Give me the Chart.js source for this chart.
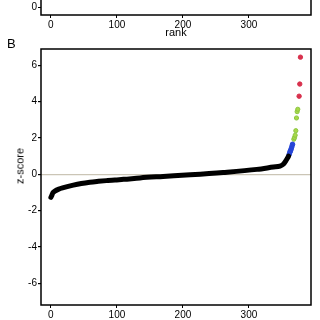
<!DOCTYPE html>
<html>
<head>
<meta charset="utf-8">
<script src="https://cdn.jsdelivr.net/npm/chart.js@4"></script>
<style>
  html, body { margin: 0; padding: 0; background: #fff; }
  body { width: 320px; height: 320px; position: relative; overflow: hidden; font-family: 'Liberation Sans', Arial, sans-serif; color: #000; }
  #topWrap { position: absolute; left: 0; top: -50px; width: 320px; height: 90px; }
  #mainWrap { position: absolute; left: 0; top: 40px; width: 320px; height: 280px; }
  #panelB { position: absolute; left: 7px; top: 37px; font-size: 13px; line-height: 13px; }
  #ytitle { position: absolute; left: 20px; top: 166px; font-size: 11px; line-height: 11px; transform: translate(-50%, -50%) rotate(-90deg); white-space: nowrap; }
</style>
</head>
<body>
<div id="topWrap"><canvas id="topChart" width="320" height="90"></canvas></div>
<div id="panelB">B</div>
<div id="mainWrap"><canvas id="mainChart" width="320" height="280"></canvas></div>
<div id="ytitle">z-score</div>
<script>
const xTicks = [0, 100, 200, 300]
const yTicks = [-6, -4, -2, 0, 2, 4, 6]
const topYTicks = [0]

// bulk of the ranked scores (drawn as a thick black trace)
const rankBlack = [0, 1, 3, 6, 12, 19, 34, 46, 59, 72, 84, 97, 110, 135, 170, 211, 261, 312, 337, 347, 352, 356, 360]
const zBlack = [-1.27, -1.2, -1.02, -0.93, -0.82, -0.74, -0.6, -0.51, -0.44, -0.39, -0.35, -0.31, -0.28, -0.2, -0.12, -0.03, 0.1, 0.27, 0.4, 0.45, 0.55, 0.75, 1.0]

const rankBlue = [361, 362, 363, 364, 365, 366]
const zBlue = [1.1, 1.22, 1.3, 1.4, 1.52, 1.65]

const rankGreen = [368, 369, 370, 371, 372, 373, 374]
const zGreen = [1.93, 2.02, 2.15, 2.4, 3.1, 3.45, 3.58]

const rankRed = [376, 377, 378]
const zRed = [4.3, 4.97, 6.45]

const toPoints = (xs, ys) => xs.map((x, i) => ({ x: x, y: ys[i] }))

Chart.defaults.font.family = "'Liberation Sans', Arial, sans-serif"
Chart.defaults.font.size = 10
Chart.defaults.color = '#000'

const frame = {
  id: 'frame',
  afterDatasetsDraw (chart) {
    const { ctx, chartArea: a } = chart
    ctx.save()
    ctx.strokeStyle = '#000'
    ctx.lineWidth = 1.5
    ctx.strokeRect(a.left, a.top, a.right - a.left, a.bottom - a.top)
    ctx.restore()
  }
}

function xScale (height, withTitle) {
  return {
    type: 'linear',
    min: -15,
    max: 394,
    afterBuildTicks: (scale) => { scale.ticks = xTicks.map(v => ({ value: v })) },
    afterFit: (scale) => { scale.height = height },
    border: { display: false },
    grid: { drawOnChartArea: false, tickLength: 3, tickColor: '#000', tickWidth: 1 },
    ticks: { padding: 1, maxRotation: 0, font: { size: 10 } },
    title: { display: withTitle, text: 'rank', font: { size: 11 }, padding: { top: 0, bottom: 0 } }
  }
}

// panel A (only its bottom edge is visible)
new Chart(document.getElementById('topChart').getContext('2d'), {
  type: 'scatter',
  data: { datasets: [] },
  options: {
    responsive: false,
    animation: false,
    layout: { padding: { left: 0, right: 9, top: 0, bottom: 0 } },
    plugins: { legend: { display: false }, tooltip: { enabled: false } },
    scales: {
      x: xScale(25, true),
      y: {
        type: 'linear',
        min: -1,
        max: 6.5,
        afterBuildTicks: (scale) => { scale.ticks = topYTicks.map(v => ({ value: v })) },
        afterFit: (scale) => { scale.width = 41 },
        border: { display: false },
        grid: { drawOnChartArea: false, tickLength: 3, tickColor: '#000' },
        ticks: { padding: 1, font: { size: 10 } }
      }
    }
  },
  plugins: [frame]
})

// panel B
new Chart(document.getElementById('mainChart').getContext('2d'), {
  type: 'scatter',
  data: {
    datasets: [
      {
        data: toPoints(rankBlack, zBlack),
        showLine: true,
        borderColor: '#000',
        borderWidth: 5,
        borderCapStyle: 'round',
        borderJoinStyle: 'round',
        cubicInterpolationMode: 'monotone',
        pointRadius: 0
      },
      {
        data: toPoints(rankBlue, zBlue),
        backgroundColor: '#2645d6',
        borderColor: '#2645d6',
        pointRadius: 2.3
      },
      {
        data: toPoints(rankGreen, zGreen),
        backgroundColor: '#a8d84a',
        borderColor: '#8cc63f',
        borderWidth: 1,
        pointRadius: 2.1
      },
      {
        data: toPoints(rankRed, zRed),
        backgroundColor: '#d8314d',
        borderColor: '#d8314d',
        pointRadius: 2.2
      }
    ]
  },
  options: {
    responsive: false,
    animation: false,
    layout: { padding: { left: 0, right: 9, top: 9, bottom: 0 } },
    plugins: { legend: { display: false }, tooltip: { enabled: false } },
    scales: {
      x: xScale(15, false),
      y: {
        type: 'linear',
        min: -7.2,
        max: 6.9,
        afterBuildTicks: (scale) => { scale.ticks = yTicks.map(v => ({ value: v })) },
        afterFit: (scale) => { scale.width = 41 },
        border: { display: false },
        grid: {
          drawOnChartArea: true,
          color: (ctx) => (ctx.tick && ctx.tick.value === 0 ? '#cbc5b6' : 'rgba(0,0,0,0)'),
          lineWidth: 1.2,
          tickLength: 3,
          tickColor: '#000'
        },
        ticks: { padding: 1, font: { size: 10 } }
      }
    }
  },
  plugins: [frame]
})
</script>
</body>
</html>
